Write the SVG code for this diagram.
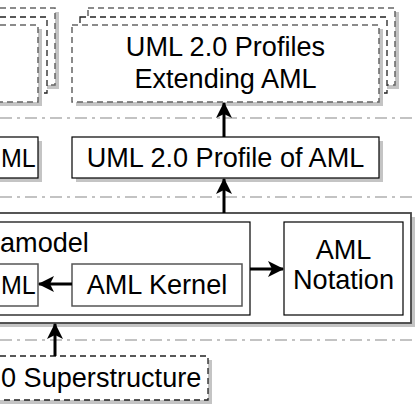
<svg xmlns="http://www.w3.org/2000/svg" width="417" height="417" viewBox="0 0 417 417">
<defs>
<style>
text{font-family:"Liberation Sans",Arial,sans-serif;font-size:27.1px;fill:#000}
text.cut{font-size:25px}
.box{fill:#fff;stroke:#000;stroke-width:1.2}
.gbox{fill:#fff;stroke:#555;stroke-width:1.5}
.dash{fill:#fff;stroke:#222;stroke-width:1.3;stroke-dasharray:6 4}
.dashg{fill:#fff;stroke:#666;stroke-width:1.5;stroke-dasharray:6 4}
.shadow{fill:#c4c4c4}
.sep{stroke:#b0b0b0;stroke-width:1.5;stroke-dasharray:12 5 3 5;fill:none}
.conn{stroke:#000;stroke-width:3;fill:none}
</style>
<marker id="ah" viewBox="0 0 16 16" refX="15" refY="8" markerWidth="16" markerHeight="16" markerUnits="userSpaceOnUse" orient="auto">
<path d="M0,0 L16,8 L0,16 L4,8 Z" fill="#000"/>
</marker>
</defs>
<rect width="417" height="417" fill="#fff"/>
<g id="separators">
<line class="sep" x1="0" y1="118" x2="417" y2="118"/>
<line class="sep" x1="0" y1="197" x2="417" y2="197"/>
<line class="sep" x1="0" y1="340" x2="417" y2="340"/>
</g>
<g id="profiles-left">
<rect class="shadow" x="-20" y="12" width="79" height="77"/>
<rect class="dashg" x="-30" y="8" width="85" height="77"/>
<rect class="dash" x="-30" y="17" width="77" height="76"/>
<rect class="shadow" x="-20" y="29" width="62" height="77"/>
<rect class="dashg" x="-30" y="25" width="68" height="77"/>
</g>
<g id="profiles-extending">
<rect class="shadow" x="92" y="12" width="307" height="77"/>
<rect class="dashg" x="88" y="8" width="307" height="77"/>
<rect class="dash" x="80" y="17" width="307" height="76"/>
<rect class="shadow" x="76" y="29" width="307" height="77"/>
<rect class="dashg" x="72" y="25" width="307" height="77"/>
<text x="225.5" y="56" text-anchor="middle">UML 2.0 Profiles</text>
<text x="225.5" y="88" text-anchor="middle">Extending AML</text>
</g>
<g id="left-profile">
<rect class="shadow" x="-20" y="141" width="62" height="41"/>
<rect class="box" x="-30" y="137" width="68" height="41"/>
<text class="cut" x="1" y="166.5">ML</text>
</g>
<g id="profile-of-aml">
<rect class="shadow" x="76" y="141" width="307" height="41"/>
<rect class="box" x="72" y="137" width="307" height="41"/>
<text x="225.5" y="167" text-anchor="middle">UML 2.0 Profile of AML</text>
</g>
<g id="outer">
<rect class="shadow" x="-20" y="217" width="435" height="110"/>
<rect fill="#fff" stroke="#444" stroke-width="1.8" x="-30" y="213" width="441" height="110"/>
</g>
<g id="metamodel">
<rect class="box" x="-30" y="222" width="280" height="93"/>
<text x="0" y="252">amodel</text>
</g>
<g id="left-kernel">
<rect class="gbox" x="-30" y="264" width="68" height="42"/>
<text class="cut" x="1" y="293.5">ML</text>
</g>
<g id="aml-kernel">
<rect class="gbox" x="72" y="264" width="170" height="42"/>
<text x="157" y="294" text-anchor="middle">AML Kernel</text>
</g>
<g id="aml-notation">
<rect class="box" x="284" y="222" width="119" height="93"/>
<text x="343.5" y="259" text-anchor="middle">AML</text>
<text x="343.5" y="289" text-anchor="middle">Notation</text>
</g>
<g id="superstructure">
<rect class="shadow" x="-20" y="360" width="232" height="44"/>
<rect class="dash" x="-30" y="356" width="238" height="44"/>
<text x="1" y="387">0 Superstructure</text>
</g>
<g id="connectors">
<line class="conn" x1="224" y1="137" x2="224" y2="103" marker-end="url(#ah)"/>
<line class="conn" x1="224" y1="213" x2="224" y2="179" marker-end="url(#ah)"/>
<line class="conn" x1="55" y1="356" x2="55" y2="324" marker-end="url(#ah)"/>
<line class="conn" x1="72" y1="284" x2="39" y2="284" marker-end="url(#ah)"/>
<line class="conn" x1="250" y1="269" x2="283" y2="269" marker-end="url(#ah)"/>
</g>
</svg>
